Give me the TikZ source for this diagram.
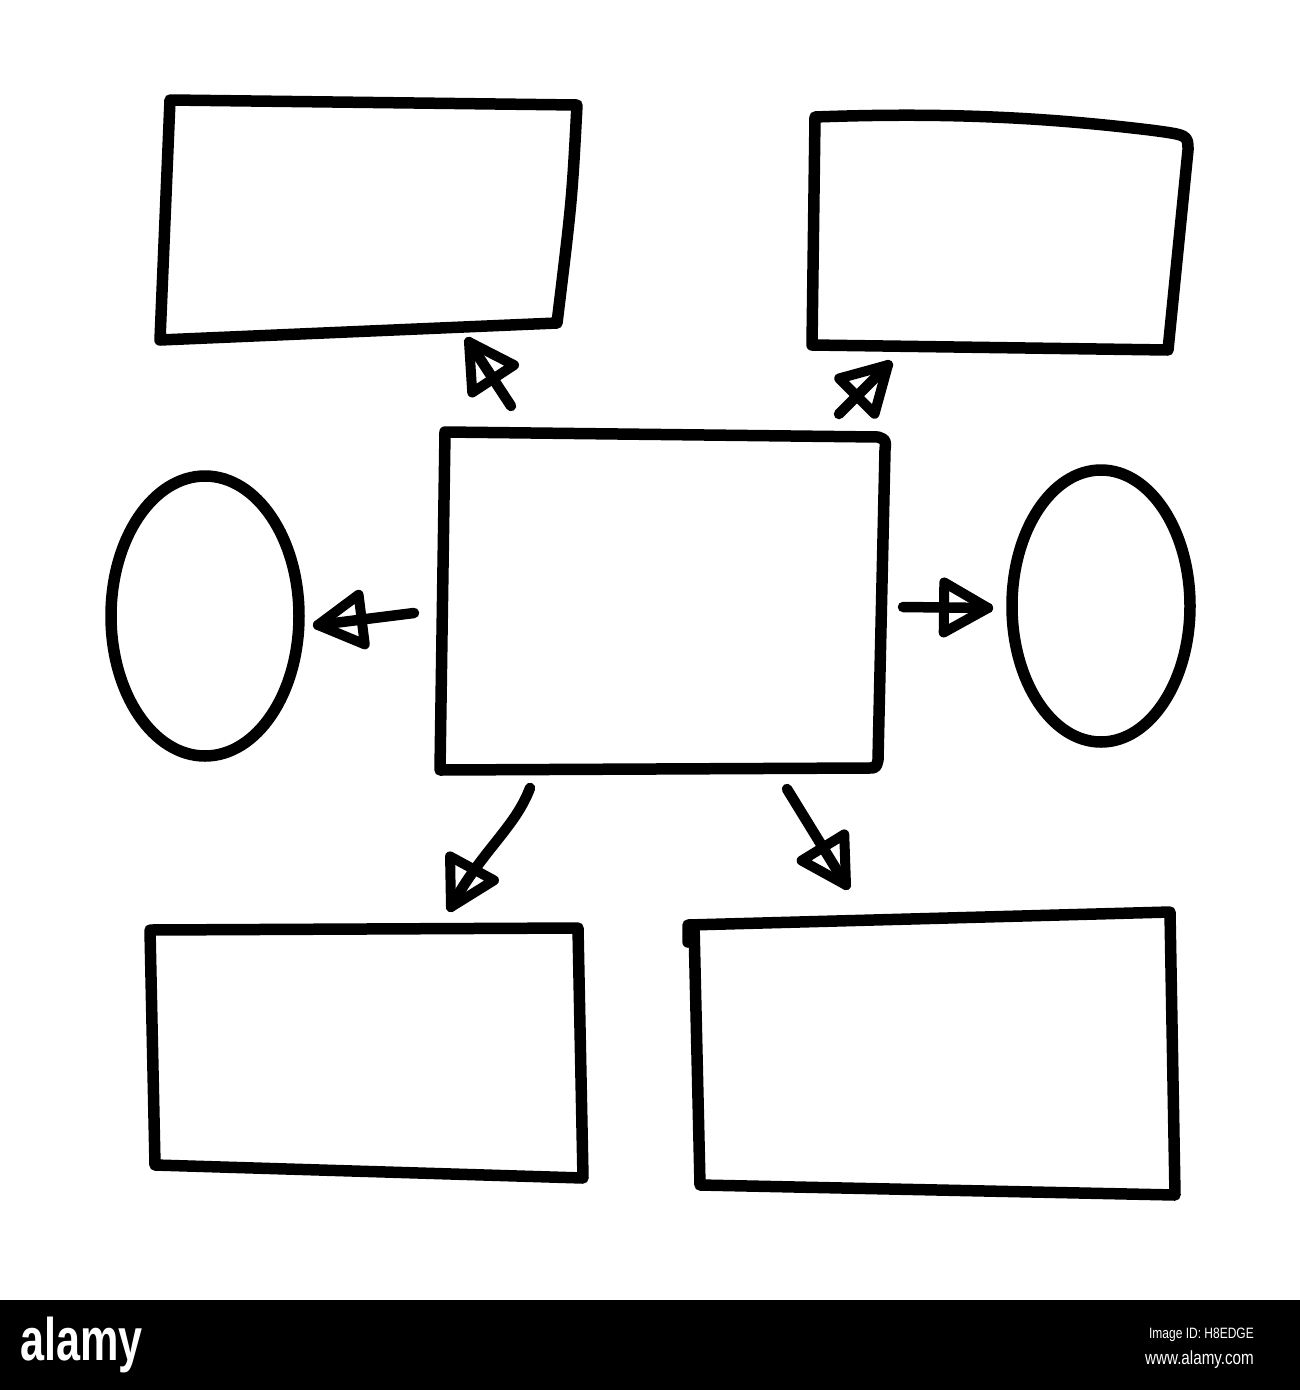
\documentclass[tikz,border=0pt]{standalone}
\usepackage{fontspec}
\setmainfont{Liberation Sans}
\usetikzlibrary{decorations.markings}
\begin{document}
\begin{tikzpicture}[x=1pt,y=-1pt,
  pen/.style={line width=11.5pt, line join=round, line cap=round},
  arr/.style={line width=10.5pt, line cap=round, line join=round,
    postaction={decorate, decoration={markings,
      mark=at position 1 with {\draw[line width=10pt, line join=round, line cap=round]
        (0,0) -- (-44,25) -- (-44,-25) -- cycle;}}}},
  wm/.style={text=white, inner sep=0pt}]
\useasboundingbox (0,0) rectangle (1300,1390);
\fill[white] (0,0) rectangle (1300,1390);

% ---- shapes (hand drawn outlines) ----
% top-left box
\draw[pen] (170,100) -- (577,105) .. controls (572,200) .. (557,323) -- (160,340) -- cycle;
% top-right box
\draw[pen] (815,117) .. controls (950,112) and (1050,118) .. (1150,130)
  .. controls (1188,135) .. (1188,150) -- (1168,350) -- (812,345) -- cycle;
% centre box
\draw[pen] (445,432) -- (878,437) .. controls (886,440) .. (885,450) -- (878,760)
  .. controls (876,768) .. (868,768) -- (440,770) -- cycle;
% bottom-left box
\draw[pen] (150,930) -- (578,928) -- (583,1178) -- (155,1165) -- cycle;
% bottom-right box
\draw[pen] (688,942) -- (688,925) -- (1170,912) -- (1175,1195) -- (700,1185) -- (694,925);
% left ellipse
\draw[pen] (205,616) ellipse [x radius=94, y radius=140];
% right ellipse
\draw[pen] (1101,606) ellipse [x radius=89, y radius=136];

% ---- connector anchors ----
\coordinate (cTL) at (511,406);  \coordinate (boxTL) at (469,342);
\coordinate (cTR) at (839,414);  \coordinate (boxTR) at (888,365);
\coordinate (cL)  at (414,613);  \coordinate (ellL)  at (318,625);
\coordinate (cR)  at (903,607);  \coordinate (ellR)  at (988,608);
\coordinate (cBL) at (530,788);  \coordinate (boxBL) at (451,907);
\coordinate (cBR) at (787,789);  \coordinate (boxBR) at (846,885);

\draw[arr] (cTL) -- (boxTL);
\draw[arr] (cTR) -- (boxTR);
\draw[arr] (cL) -- (ellL);
\draw[arr] (cR) -- (ellR);
\draw[arr] (cBL) .. controls (515,828) and (482,850) .. (boxBL);
\draw[arr] (cBR) -- (boxBR);

% ---- watermark bar ----
\fill[black] (0,1300) rectangle (1300,1390);
\node[wm, font=\bfseries\fontsize{60}{60}\selectfont, xscale=0.72, transform shape,
  anchor=base west] (logo) at (20,1360) {alamy};
\node[wm, font=\fontsize{15}{15}\selectfont, xscale=0.8, transform shape,
  anchor=base east] (imgid) at (1254,1338) {Image ID: H8EDGE};
\node[wm, font=\fontsize{19}{19}\selectfont, xscale=0.8, transform shape,
  anchor=base east] (site) at (1254,1364) {www.alamy.com};
\end{tikzpicture}
\end{document}
